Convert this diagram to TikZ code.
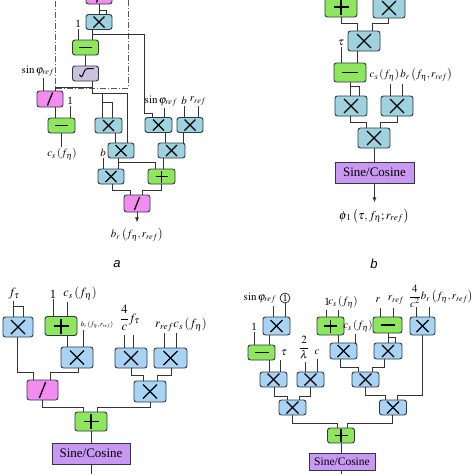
\documentclass[tikz,border=0pt]{standalone}
\usepackage{mathptmx}
\usepackage{fontspec}
\setmainfont{Liberation Serif}
\setsansfont{Liberation Sans}
\usetikzlibrary{calc,arrows.meta}
\definecolor{tealb}{HTML}{9DD2DE}
\definecolor{skyb}{HTML}{A8D3F5}
\definecolor{grn}{HTML}{8DE65C}
\definecolor{pnk}{HTML}{F28CF0}
\definecolor{lav}{HTML}{CBC3DE}
\definecolor{scpur}{HTML}{C898F2}
\definecolor{bord}{HTML}{2B3A44}
\definecolor{wirec}{HTML}{333333}
\tikzset{
 blk/.style={draw=bord, line width=0.9pt, rounded corners=2.5pt, inner sep=0pt},
 sym/.style={line width=1.3pt, black},
 wire/.style={draw=wirec, line width=0.8pt},
 arr/.style={-{Latex[length=5pt,width=4pt]}},
 mulsym/.style={path picture={
  \draw[sym] ([shift={(-#1,-#1)}]path picture bounding box.center) -- ([shift={(#1,#1)}]path picture bounding box.center);
  \draw[sym] ([shift={(-#1,#1)}]path picture bounding box.center) -- ([shift={(#1,-#1)}]path picture bounding box.center);}},
 plssym/.style={path picture={
  \draw[sym] ([xshift=-#1]path picture bounding box.center) -- ([xshift=#1]path picture bounding box.center);
  \draw[sym] ([yshift=-#1]path picture bounding box.center) -- ([yshift=#1]path picture bounding box.center);}},
 minsym/.style={path picture={
  \draw[sym] ([xshift=-#1]path picture bounding box.center) -- ([xshift=#1]path picture bounding box.center);}},
 divsym/.style={path picture={
  \draw[sym] ([shift={(-0.4*#1,-#1)}]path picture bounding box.center) -- ([shift={(0.4*#1,#1)}]path picture bounding box.center);}},
 sqsym/.style={path picture={
  \draw[line width=1pt,black] ([shift={(-6pt,-1pt)}]path picture bounding box.center) -- ([shift={(-4pt,-4.5pt)}]path picture bounding box.center) -- ([shift={(0pt,5pt)}]path picture bounding box.center) -- ([shift={(8pt,5pt)}]path picture bounding box.center);}},
 szA/.style={minimum width=26pt, minimum height=15pt},
 szB/.style={minimum width=32pt, minimum height=20pt},
 szD/.style={minimum width=27pt, minimum height=16pt},
 mulA/.style={blk, fill=tealb, szA, mulsym=5.5pt},
 minA/.style={blk, fill=grn, szA, minsym=6.5pt},
 plsA/.style={blk, fill=grn, szA, plssym=6pt},
 divA/.style={blk, fill=pnk, szA, minimum height=16pt, divsym=6.5pt},
 sqA/.style={blk, fill=lav, szA, sqsym},
 mulB/.style={blk, fill=tealb, szB, mulsym=7pt},
 minB/.style={blk, fill=grn, szB, minsym=8pt},
 plsB/.style={blk, fill=grn, szB, plssym=7.5pt},
 mulC/.style={blk, fill=skyb, szB, mulsym=7pt},
 plsC/.style={blk, fill=grn, szB, plssym=7.5pt},
 divC/.style={blk, fill=pnk, szB, divsym=8pt},
 mulD/.style={blk, fill=skyb, szD, mulsym=6pt},
 minD/.style={blk, fill=grn, szD, minsym=7pt},
 plsD/.style={blk, fill=grn, szD, plssym=6.5pt},
 scbox/.style={draw=bord, line width=0.9pt, fill=scpur, inner sep=0pt},
 lab/.style={inner sep=1pt, font=\fontsize{11}{13}\selectfont},
 labC/.style={inner sep=1pt, font=\fontsize{12.5}{14}\selectfont},
 labS/.style={inner sep=1pt, font=\fontsize{7}{8}\selectfont},
 labL/.style={inner sep=1pt, font=\fontsize{12}{14}\selectfont},
 capt/.style={inner sep=1pt, font=\sffamily\itshape\fontsize{13}{15}\selectfont},
}
\begin{document}
\begin{tikzpicture}[x=1pt,y=-1pt]
\useasboundingbox (0,0) rectangle (474,474);
\fill[white] (0,0) rectangle (474,474);

% ================= panel a =================
\draw[draw=gray!70!black, line width=0.8pt, dash pattern=on 6pt off 2pt on 1pt off 2pt] (55,-10) rectangle (128,88);
\node[divA] (aD0) at (99,-4) {};
\node[mulA] (aM1) at (99,22) {};
\node[minA] (aN1) at (85.5,47.5) {};
\node[sqA] (aS) at (85.5,73.5) {};
\node[divA] (aD1) at (50,99) {};
\node[minA, minimum width=27pt] (aN2) at (61.5,125.5) {};
\node[mulA, minimum width=27pt] (aM2) at (108.5,125.5) {};
\node[mulA] (aM3) at (121,150.5) {};
\node[mulA, minimum width=27pt] (aM4) at (158.5,125) {};
\node[mulA] (aM5) at (190,125) {};
\node[mulA, minimum width=27pt] (aM6) at (171.5,150.5) {};
\node[mulA] (aM7) at (111,176.5) {};
\node[plsA, minimum width=27pt] (aP) at (161.5,176.5) {};
\node[divA, minimum height=17pt] (aD2) at (137,203.5) {};

\node[lab] (aL1) at (78,24) {1};
\node[lab] (aL2) at (38,71) {$\sin\varphi_{ref}$};
\node[lab] (aL3) at (70,101) {1};
\node[lab] (aL4) at (62,154) {$c_s\left(f_\eta\right)$};
\node[lab] (aL5) at (161,101) {$\sin\varphi_{ref}$};
\node[lab] (aL6) at (184,101) {$b$};
\node[lab] (aL7) at (198,101) {$r_{ref}$};
\node[lab] (aL8) at (103,153) {$b$};
\node[lab] (aL9) at (137,235) {$b_r\left(f_\eta,r_{ref}\right)$};
\node[capt] (aCap) at (117,264) {a};

\draw[wire] (aD0.south) -- (aM1.north);
\draw[wire] (aD0.south) ++(0,6) -| ([xshift=7pt]aM1.north);
\draw[wire] ([xshift=-7pt]aM1.south) -- ++(0,4) -| (144,113) -| ([xshift=-6.5pt]aM4.north);
\draw[wire] ([xshift=-7pt]aM1.south) -- ([xshift=6.5pt]aN1.north);
\draw[wire] (aL1.south) -- (aL1.south |- aN1.north);
\draw[wire] (aN1.south) -- (aS.north);
\draw[wire] ([xshift=6.5pt]aS.south) -- ++(0,12) -| ([xshift=6pt]aM3.north);
\draw[wire] ([xshift=6.5pt]aS.south) ++(0,6) -| ([xshift=5pt]aD1.north);
\draw[wire] ([xshift=6.5pt]aS.south) ++(10,12) -- ([xshift=-6.5pt]aM2.north);
\draw[wire] ([xshift=-6.5pt]aM2.north) ++(0,-15) -| ([xshift=3.5pt]aM2.north);
\draw[wire] ([xshift=5pt]aL2.south) -- ([xshift=-7pt]aD1.north);
\draw[wire] ([xshift=5pt]aD1.south) -- ([xshift=-6.5pt]aN2.north);
\draw[wire] (aL3.south) -- (aL3.south |- aN2.north);
\draw[wire] (aN2.south) -- (aN2.south |- aL4.north);
\draw[wire] ([xshift=6.5pt]aM2.south) -- ([xshift=-6pt]aM3.north);
\draw[wire] ([xshift=3pt]aL5.south) -- ([xshift=5.5pt]aM4.north);
\draw[wire] (aL6.south) -- ([xshift=-6pt]aM5.north);
\draw[wire] (aL7.south) -- ([xshift=8pt]aM5.north);
\draw[wire] ([xshift=6.5pt]aM4.south) -- ([xshift=-6.5pt]aM6.north);
\draw[wire] ([xshift=-7pt]aM5.south) -- ([xshift=11.5pt]aM6.north);
\draw[wire] ([xshift=-3pt]aM3.south) -- ([xshift=7pt]aM7.north);
\draw[wire] ([xshift=-3pt]aM3.south) ++(0,4) -| ([xshift=-6.5pt]aP.north);
\draw[wire] (aL8.south) -- ([xshift=-8pt]aM7.north);
\draw[wire] ([xshift=-8.5pt]aM6.south) -- ([xshift=1.5pt]aP.north);
\draw[wire] ([xshift=1pt]aM7.south) -- ++(0,6) -| ([xshift=-7pt]aD2.north);
\draw[wire] (aP.south) -- ++(0,6) -| ([xshift=5pt]aD2.north);
\draw[wire,arr] (aD2.south) -- ++(0,10);

% ================= panel b =================
\node[plsB] (bP) at (341,7) {};
\node[mulB] (bM0) at (389,8) {};
\node[mulB] (bM1) at (364,41) {};
\node[minB, minimum height=19pt] (bN) at (350,72.5) {};
\node[mulB] (bM2) at (351,106) {};
\node[mulB] (bM3) at (397,106) {};
\node[mulB] (bM4) at (374,138) {};
\node[scbox, minimum width=79pt, minimum height=21pt, font=\fontsize{13}{15}\selectfont] (bSC) at (374.5,172.5) {Sine/Cosine};
\node[lab] (bL1) at (341,43) {$\tau$};
\node[lab] (bL2) at (411,75) {$c_s\left(f_\eta\right)b_r\left(f_\eta,r_{ref}\right)$};
\node[labL] (bL3) at (374,216) {$\phi_{\,1}\left(\tau,f_\eta;r_{ref}\right)$};
\node[capt] (bCap) at (374,264) {b};
\coordinate (bT1) at (390,84);
\coordinate (bT2) at (402,84);

\draw[wire] (bP.south) -- ++(0,6) -| ([xshift=-7pt]bM1.north);
\draw[wire] ([xshift=-1pt]bM0.south) -- ++(0,5) -| ([xshift=8pt]bM1.north);
\draw[wire] (bL1.south) -- (bL1.south |- bN.north);
\draw[wire] ([xshift=-7pt]bM1.south) -- ([xshift=7pt]bN.north);
\draw[wire] (bN.south) -- ([xshift=-1pt]bM2.north);
\draw[wire] (bN.south) ++(0,4) -| ([xshift=8pt]bM2.north);
\draw[wire] (bT1) -- (bT1 |- bM3.north);
\draw[wire] (bT2) -- (bT2 |- bM3.north);
\draw[wire] ([xshift=-1pt]bM2.south) -- ++(0,6) -| ([xshift=-8pt]bM4.north);
\draw[wire] (bM3.south) -- ++(0,6) -| ([xshift=6pt]bM4.north);
\draw[wire] (bM4.south) -- (bM4.south |- bSC.north);
\draw[wire,arr] (bSC.south) -- ++(0,19);

% ================= panel c =================
\node[mulC, minimum width=30pt] (cM1) at (18,327) {};
\node[plsC, minimum height=19pt] (cP1) at (61,326) {};
\node[mulC, minimum height=21pt] (cM2) at (77,357.5) {};
\node[mulC] (cM3) at (131,358) {};
\node[mulC, minimum width=33pt] (cM4) at (170.5,358) {};
\node[divC, minimum width=31pt] (cD) at (42.5,390) {};
\node[mulC, minimum height=21pt] (cM5) at (150,391.5) {};
\node[plsC, minimum height=19pt] (cP2) at (91,421.5) {};
\node[scbox, minimum width=78pt, minimum height=21pt, font=\fontsize{13}{15}\selectfont] (cSC) at (91,453.5) {Sine/Cosine};
\node[labC] (cL1) at (14,294) {$f_\tau$};
\node[labC] (cL2) at (53,294) {1};
\node[labC] (cL3) at (80,294) {$c_s\left(f_\eta\right)$};
\node[labS] (cL4) at (97,325) {$b_r\left(f_\eta,r_{ref}\right)$};
\node[labC] (cL5) at (130,318) {${\displaystyle\frac{4}{c}}f_\tau$};
\node[labC] (cL6) at (181,325) {$r_{ref}c_s\left(f_\eta\right)$};
\coordinate (cT1) at (67,302);
\coordinate (cT2) at (83,330);
\coordinate (cT3) at (124,335);
\coordinate (cT4) at (133,335);
\coordinate (cT5) at (164,333);
\coordinate (cT6) at (176,333);

\draw[wire] ([xshift=-1pt]cL1.south) -- ([xshift=-5pt]cM1.north);
\draw[wire] ([xshift=-1pt]cL1.south) ++(0,6) -| ([xshift=5pt]cM1.north);
\draw[wire] (cL2.south) -- ([xshift=-8pt]cP1.north);
\draw[wire] (cT1) -- ([xshift=6pt]cP1.north);
\draw[wire] ([xshift=6pt]cP1.south) -- ([xshift=-10pt]cM2.north);
\draw[wire] (cT2) -- ([xshift=6pt]cM2.north);
\draw[wire] (cT3) -- ([xshift=-7pt]cM3.north);
\draw[wire] (cT4) -- ([xshift=2pt]cM3.north);
\draw[wire] (cT5) -- ([xshift=-6.5pt]cM4.north);
\draw[wire] (cT6) -- ([xshift=5.5pt]cM4.north);
\draw[wire] ([xshift=-1pt]cM1.south) -- ++(0,35) -| ([xshift=-9.5pt]cD.north);
\draw[wire] ([xshift=1pt]cM2.south) -- ++(0,4) -| ([xshift=7.5pt]cD.north);
\draw[wire] (cM3.south) -- ++(0,7) -| ([xshift=-7pt]cM5.north);
\draw[wire] ([xshift=0.5pt]cM4.south) -- ++(0,7) -| ([xshift=7pt]cM5.north);
\draw[wire] (cD.south) -- ++(0,7) -| ([xshift=-8pt]cP2.north);
\draw[wire] (cM5.south) -- ++(0,5) -| ([xshift=6pt]cP2.north);
\draw[wire] (cP2.south) -- (cSC.north);
\draw[wire] (cSC.south) -- ++(0,15);

% ================= panel d =================
\node[mulD, minimum height=18pt] (dM1) at (276.5,326) {};
\node[minD, minimum height=15pt] (dN1) at (261.5,352.5) {};
\node[mulD, minimum height=15pt] (dM2) at (273.5,379.5) {};
\node[mulD, minimum height=15pt] (dM3) at (310.5,379.5) {};
\node[mulD, minimum height=15pt] (dM4) at (292.5,407.5) {};
\node[plsD, minimum height=18pt] (dP1) at (330.5,326) {};
\node[mulD] (dM5) at (343.5,351) {};
\node[minD, minimum width=29pt] (dN2) at (387.5,325) {};
\node[mulD, minimum width=28pt] (dM6) at (388,351) {};
\node[mulD, minimum width=25pt, minimum height=18pt] (dM7) at (422.5,326) {};
\node[mulD, minimum height=15pt] (dM8) at (365.5,379.5) {};
\node[mulD, minimum height=15pt] (dM9) at (393,407.5) {};
\node[plsD, minimum height=15pt] (dP2) at (341,435.5) {};
\node[scbox, minimum width=66pt, minimum height=17pt, font=\fontsize{11.5}{13}\selectfont] (dSC) at (342,461.5) {Sine/Cosine};
\node[lab] (dL1) at (260,298) {$\sin\varphi_{ref}$};
\node[circle, draw, line width=0.6pt, inner sep=0.6pt, font=\fontsize{10}{10}\selectfont] (dL2) at (285,298) {1};
\node[lab] (dL3) at (254,327) {1};
\node[lab] (dL4) at (284,353) {$\tau$};
\node[lab] (dL5) at (304,347) {$\displaystyle\frac{2}{\lambda}$};
\node[lab] (dL6) at (317,352) {$c$};
\node[lab] (dL7) at (327,302) {1};
\node[lab] (dL8) at (343,302) {$c_s\left(f_\eta\right)$};
\node[lab] (dL9) at (358,326) {$c_s\left(f_\eta\right)$};
\node[lab] (dL10) at (378,300) {$r$};
\node[lab] (dL11) at (396,300) {$r_{ref}$};
\node[lab] (dL12) at (441,296) {$\displaystyle\frac{4}{c^2}b_r\left(f_\eta,r_{ref}\right)$};
\coordinate (dT1) at (273,306);
\coordinate (dT2) at (280,360);
\coordinate (dT3) at (305,362);
\coordinate (dT4) at (317,359);
\coordinate (dT5) at (326,310);
\coordinate (dT6) at (338,310);
\coordinate (dT7) at (355,334);
\coordinate (dT8) at (380,308);
\coordinate (dT9) at (393,308);
\coordinate (dT10) at (416,307);
\coordinate (dT11) at (429,307);

\draw[wire] (dT1) -- ([xshift=-3.5pt]dM1.north);
\draw[wire] (dL2.south) -- (dL2.south |- dM1.north);
\draw[wire] (dL3.south) -- ([xshift=-7.5pt]dN1.north);
\draw[wire] ([xshift=-7.5pt]dM1.south) -- ([xshift=7.5pt]dN1.north);
\draw[wire] (dT2) -- ([xshift=6.5pt]dM2.north);
\draw[wire] ([xshift=7.5pt]dN1.south) -- ([xshift=-4.5pt]dM2.north);
\draw[wire] (dT3) -- ([xshift=-5.5pt]dM3.north);
\draw[wire] (dT4) -- ([xshift=6.5pt]dM3.north);
\draw[wire] ([xshift=0.5pt]dM2.south) -- ++(0,9) -| ([xshift=-5.5pt]dM4.north);
\draw[wire] ([xshift=-0.5pt]dM3.south) -- ++(0,9) -| ([xshift=6.5pt]dM4.north);
\draw[wire] (dT5) -- ([xshift=-4.5pt]dP1.north);
\draw[wire] (dT6) -- ([xshift=7.5pt]dP1.north);
\draw[wire] ([xshift=7.5pt]dP1.south) -- ([xshift=-5.5pt]dM5.north);
\draw[wire] (dT7) -- ([xshift=11.5pt]dM5.north);
\draw[wire] (dT8) -- ([xshift=-7.5pt]dN2.north);
\draw[wire] (dT9) -- ([xshift=5.5pt]dN2.north);
\draw[wire] ([xshift=0.5pt]dN2.south) -- (dM6.north);
\draw[wire] ([xshift=0.5pt]dN2.south) ++(0,4) -| ([xshift=7pt]dM6.north);
\draw[wire] (dT10) -- ([xshift=-6.5pt]dM7.north);
\draw[wire] (dT11) -- ([xshift=6.5pt]dM7.north);
\draw[wire] ([xshift=-3.5pt]dM5.south) -- ++(0,8) -| ([xshift=-7.5pt]dM8.north);
\draw[wire] ([xshift=-4pt]dM6.south) -- ++(0,8) -| ([xshift=6.5pt]dM8.north);
\draw[wire] (dM8.south) -- ++(0,8) -| ([xshift=-8pt]dM9.north);
\draw[wire] ([xshift=-0.5pt]dM7.south) -- ++(0,60) -| ([xshift=4pt]dM9.north);
\draw[wire] (dM4.south) -- ++(0,8) -| ([xshift=-4pt]dP2.north);
\draw[wire] ([xshift=-1pt]dM9.south) -- ++(0,8) -| ([xshift=6pt]dP2.north);
\draw[wire] (dP2.south) -- (dP2.south |- dSC.north);
\draw[wire] (dP2.south |- dSC.south) -- ++(0,10);
\end{tikzpicture}
\end{document}
